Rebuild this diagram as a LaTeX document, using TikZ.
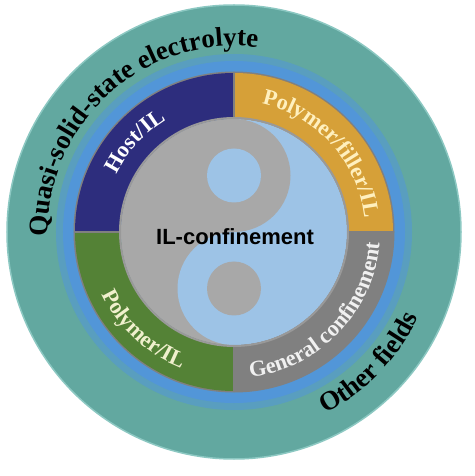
\documentclass[tikz,border=0pt]{standalone}
\usepackage{fontspec}
\setmainfont{Liberation Serif}
\newfontfamily\arialfont{Liberation Sans}
\usetikzlibrary{decorations.text}

\definecolor{tealbg}{RGB}{98,168,160}
\definecolor{tealrim}{RGB}{140,200,194}
\definecolor{ringblue}{RGB}{82,150,216}
\definecolor{hostnavy}{RGB}{45,45,125}
\definecolor{fillergold}{RGB}{214,160,56}
\definecolor{polygreen}{RGB}{84,130,54}
\definecolor{gengray}{RGB}{128,128,128}
\definecolor{yingray}{RGB}{168,168,168}
\definecolor{yanblue}{RGB}{157,195,230}
\definecolor{paleyellow}{RGB}{255,240,190}
\definecolor{palegreen}{RGB}{240,240,205}

\newcommand\bigfont{\bfseries\fontsize{27}{27}\selectfont}
\newcommand\midfont{\bfseries\fontsize{22.5}{22.5}\selectfont}

\begin{document}
\begin{tikzpicture}[x=1pt,y=1pt,
		ringtext/.style 2 args={decorate,decoration={text along path,text align=center,text color=#1,text={|\bigfont|#2}}},
		quadtext/.style 2 args={decorate,decoration={text along path,text align=center,text color=#1,text={|\midfont|#2}}}]
		\useasboundingbox[fill=white] (-234,-244) rectangle (240,232);
		\coordinate (O) at (0,0);
		% rings
		\fill[tealbg,draw=tealrim,line width=1.5pt] (O) circle[radius=227pt];
		\fill[tealbg!45!ringblue] (O) circle[radius=178pt];
		\fill[ringblue] (O) circle[radius=171pt];
		\fill[black!50] (O) circle[radius=160.5pt];
		\foreach \a/\col [evaluate=\a as \b using \a+90] in {90/hostnavy,0/fillergold,180/polygreen,270/gengray}
			\fill[\col] (\a:159pt) arc[start angle=\a,end angle=\b,radius=159pt] -- (\b:113pt) arc[start angle=\b,end angle=\a,radius=113pt] -- cycle;
		\draw[black!50,line width=2.5pt] (0,112)--(0,160) (0,-112)--(0,-160) (112,0)--(160,0) (-112,0)--(-160,0);
		% yin-yang
		\fill[yanblue] (O) circle[radius=113pt];
		\fill[yingray] (0,113) arc[start angle=90,end angle=270,radius=113pt] -- cycle;
		\fill[yingray] (0,56.5) circle[radius=56.5pt];
		\fill[yanblue] (0,-56.5) circle[radius=56.5pt];
		\fill[yanblue] (0,56.5) circle[radius=27pt];
		\fill[yingray] (0,-56.5) circle[radius=27pt];
		\draw[black!40,line width=2pt] (O) circle[radius=114pt];
		\node[font=\arialfont\bfseries\fontsize{22}{22}\selectfont] (core) at (1,-5) {IL-confinement};
		% labels
		\path[ringtext={black}{Quasi-solid-state electrolyte}] (200:186pt) arc[start angle=200,end angle=64,radius=186pt];
		\path[ringtext={black}{Other fields}] (-90:203pt) arc[start angle=-90,end angle=2,radius=203pt];
		\path[quadtext={white}{Host/IL}] (180:131pt) arc[start angle=180,end angle=95,radius=131pt];
		\path[quadtext={paleyellow}{Polymer/filler/IL}] (87:131pt) arc[start angle=87,end angle=-3,radius=131pt];
		\path[quadtext={palegreen}{Polymer/IL}] (185:146pt) arc[start angle=185,end angle=269,radius=146pt];
		\path[quadtext={white!94!black}{General confinement}] (-88:146pt) arc[start angle=-88,end angle=0,radius=146pt];
\end{tikzpicture}
\end{document}
